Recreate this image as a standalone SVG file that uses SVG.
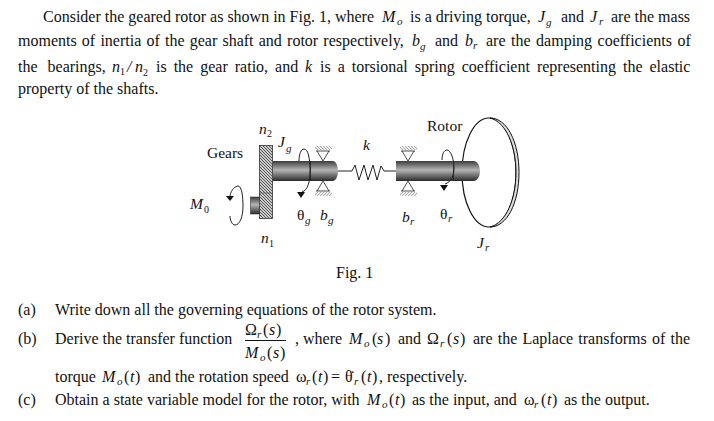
<svg xmlns="http://www.w3.org/2000/svg" width="714" height="421" viewBox="0 0 714 421">
<style>
text{font-family:"Liberation Serif","Times New Roman",serif;font-size:16px;fill:#111}
.i{font-style:italic}
.s{font-style:italic;font-size:11px}
.d{font-size:15.500px}
.n{font-size:10px}
.l{fill:none;stroke:#222;stroke-width:1}
</style>
<defs>
<linearGradient id="sh" x1="0" y1="0" x2="0" y2="1"><stop offset="0" stop-color="#3c3c3c"/><stop offset=".45" stop-color="#b5b5b5"/><stop offset="1" stop-color="#2a2a2a"/></linearGradient>
<pattern id="ht" width="3" height="3" patternUnits="userSpaceOnUse"><rect width="3" height="3" fill="#ccc"/><path d="M0 0L3 3" stroke="#444" stroke-width=".9"/></pattern>
<pattern id="hl" width="3" height="3" patternUnits="userSpaceOnUse"><rect width="3" height="3" fill="#eee"/><path d="M0 0L3 3" stroke="#999" stroke-width=".8"/></pattern>
<g id="brg"><rect x="-8" y="0" width="17" height="4" fill="url(#hl)"/><path d="M-7 5H7M-6 5L0 15L6 5" fill="#fff" stroke="#222" stroke-width=".8"/></g>
</defs>
<rect width="714" height="421" fill="#fff"/>
<g id="problem-text">
<text x="43" y="22">Consider the geared rotor as shown in Fig. 1, where</text>
<text x="382" y="22" class="i">M</text><text x="397" y="25" class="s">o</text>
<text x="410" y="22">is a driving torque,</text>
<text x="538" y="22" class="i">J</text><text x="546" y="26" class="s">g</text>
<text x="561" y="22">and</text>
<text x="590" y="22" class="i">J</text><text x="599" y="25" class="s">r</text>
<text x="611" y="22">are the mass</text>
<text x="18" y="46" style="word-spacing:1.200px">moments of inertia of the gear shaft and rotor respectively,</text>
<text x="412" y="46" class="i">b</text><text x="420" y="50" class="s">g</text>
<text x="435" y="46">and</text>
<text x="465" y="46" class="i">b</text><text x="473" y="49" class="s">r</text>
<text x="486" y="46" style="word-spacing:1.500px">are the damping coefficients of</text>
<text x="18" y="72" style="word-spacing:6px">the bearings,</text>
<text x="112" y="72" class="i">n</text><text x="120" y="75" class="n">1</text>
<text x="127" y="72" class="i">/</text>
<text x="135" y="72" class="i">n</text><text x="143" y="76" class="n">2</text>
<text x="156" y="72" style="word-spacing:3px">is the gear ratio, and</text>
<text x="305" y="72" class="i">k</text>
<text x="320" y="72" style="word-spacing:3px">is a torsional spring coefficient representing the elastic</text>
<text x="18" y="94">property of the shafts.</text>
<text x="336" y="278">Fig. 1</text>
<text x="18" y="315">(a)</text>
<text x="55" y="315">Write down all the governing equations of the rotor system.</text>
<text x="18" y="344">(b)</text>
<text x="55" y="344">Derive the transfer function</text>
<text x="245" y="335">Ω</text><text x="257" y="338" class="s">r</text><text x="263" y="335">(</text><text x="269" y="335" class="i">s</text><text x="276" y="335">)</text>
<path d="M245 340.500H286" stroke="#111" stroke-width="1"/>
<text x="245" y="358" class="i">M</text><text x="260" y="361" class="s">o</text><text x="267" y="358">(</text><text x="273" y="358" class="i">s</text><text x="280" y="358">)</text>
<text x="295" y="344">, where</text>
<text x="349" y="344" class="i">M</text><text x="364" y="347" class="s">o</text><text x="372" y="344">(</text><text x="377" y="344" class="i">s</text><text x="385" y="344">)</text>
<text x="398" y="344">and</text>
<text x="427" y="344">Ω</text><text x="440" y="347" class="s">r</text><text x="447" y="344">(</text><text x="453" y="344" class="i">s</text><text x="460" y="344">)</text>
<text x="473" y="344" style="word-spacing:1.200px">are the Laplace transforms of the</text>
<text x="55" y="382">torque</text>
<text x="102" y="382" class="i">M</text><text x="117" y="385" class="s">o</text><text x="124" y="382">(</text><text x="130" y="382" class="i">t</text><text x="135" y="382">)</text>
<text x="148" y="382">and the rotation speed</text>
<text x="296" y="382">ω</text><text x="306" y="385" class="s">r</text><text x="312" y="382">(</text><text x="318" y="382" class="i">t</text><text x="323" y="382">)</text>
<text x="331" y="382">=</text>
<text x="345" y="382">θ̇</text><text x="354" y="385" class="s">r</text><text x="361" y="382">(</text><text x="367" y="382" class="i">t</text><text x="372" y="382">)</text>
<text x="379" y="382">, respectively.</text>
<text x="18" y="405">(c)</text>
<text x="55" y="405">Obtain a state variable model for the rotor, with</text>
<text x="367" y="405" class="i">M</text><text x="382" y="408" class="s">o</text><text x="389" y="405">(</text><text x="395" y="405" class="i">t</text><text x="400" y="405">)</text>
<text x="412" y="405">as the input, and</text>
<text x="524" y="405">ω</text><text x="534" y="408" class="s">r</text><text x="541" y="405">(</text><text x="547" y="405" class="i">t</text><text x="552" y="405">)</text>
<text x="564" y="405">as the output.</text>
</g>
<g id="connectors">
<path class="l" d="M337 171H352L355 165L359 180L364 165L368 180L373 165L377 180L381 166L384 171H396" stroke-width="1.200"/>
</g>
<g id="disk">
<ellipse cx="489" cy="172.500" rx="27" ry="54.500" fill="#fff" stroke="#111" stroke-width="1.200"/>
<path d="M490 118C506 122 516 146 516 172.500S506 223 490 227C507 227 519 203 519 172.500S507 118 490 118Z" fill="#ddd" stroke="#111" stroke-width="1"/>
</g>
<g id="gear-n2"><rect x="259.500" y="145.500" width="13" height="73" fill="url(#ht)" stroke="#333" stroke-width=".8"/><path d="M259.500 193H272.500" stroke="#333" stroke-dasharray="2 1" stroke-width=".7"/></g>
<g id="gear-n1"><rect x="250.500" y="197" width="9" height="17" fill="url(#sh)" stroke="#333" stroke-width=".6"/></g>
<g id="shaft-g"><rect x="273" y="161" width="60" height="20" fill="url(#sh)"/><path d="M333 161A5 10 0 0 1 333 181Z" fill="url(#sh)"/><path d="M310.500 161V181" stroke="#222" stroke-width=".8"/>
<use href="#brg" transform="translate(323 146)"/><use href="#brg" transform="translate(323 196) scale(1 -1)"/></g>
<g id="shaft-r"><rect x="396" y="161" width="78" height="20" fill="url(#sh)"/><path d="M474 161A6 10 0 0 1 474 181Z" fill="url(#sh)"/><path d="M453.500 161V181" stroke="#222" stroke-width=".8"/>
<use href="#brg" transform="translate(408 146)"/><use href="#brg" transform="translate(408 196) scale(1 -1)"/></g>
<g id="torque-arcs">
<path class="l" d="M230 196C231 189 236 186 238 186C242 186 243 198 243 206C243 216 240 225 235 225C232 225 230 220 230 216"/>
<path d="M226 196H234L230 201Z" fill="#111"/>
<path class="l" d="M299 161C299 154 301 149 304 149C308 149 310 158 310 170C310 182 308 190 302 192"/>
<path d="M297 192H305L301 198Z" fill="#111"/>
<path class="l" d="M442 160C442 154 444 150 447 150C451 150 454 160 454 168C454 176 451 182 445 184"/>
<path d="M440 185H448L444 191Z" fill="#111"/>
</g>
<g id="labels">
<text x="259" y="134" class="i d">n</text><text x="267" y="137" class="n">2</text>
<text x="278" y="147" class="i d">J</text><text x="286" y="152" class="s">g</text>
<text x="207" y="158" class="d">Gears</text>
<text x="190" y="209" class="i d">M</text><text x="204" y="213" class="n">0</text>
<text x="261" y="243" class="i d">n</text><text x="269" y="247" class="n">1</text>
<text x="297" y="220" class="d">θ</text><text x="305" y="224" class="s">g</text>
<text x="320" y="220" class="i d">b</text><text x="328" y="224" class="s">g</text>
<text x="363" y="150" class="i d">k</text>
<text x="427" y="131" class="d">Rotor</text>
<text x="402" y="222" class="i d">b</text><text x="410" y="225" class="s">r</text>
<text x="440" y="219" class="d">θ</text><text x="448" y="222" class="s">r</text>
<text x="477" y="248" class="i d">J</text><text x="485" y="251" class="s">r</text>
</g>
</svg>
